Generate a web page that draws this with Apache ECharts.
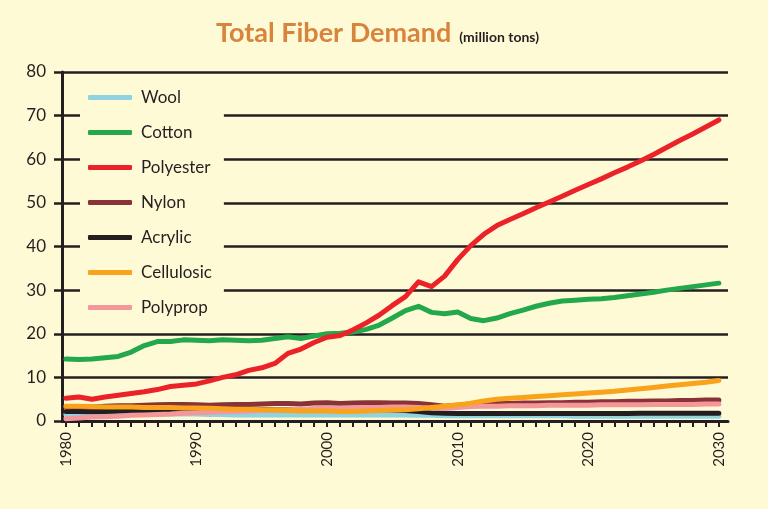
<!DOCTYPE html>
<html>
<head>
<meta charset="utf-8">
<script src="https://cdn.jsdelivr.net/npm/echarts@6/dist/echarts.min.js"></script>
<style>
html,body{margin:0;padding:0;background:#fffad6;}
#c{width:768px;height:509px;}
</style>
</head>
<body>
<div id="c"></div>
<script>
var startYear = 1980, endYear = 2030;
var years = [];
for (var y = startYear; y <= endYear; y++) years.push(y);
var xTickLabels = [1980, 1990, 2000, 2010, 2020, 2030];
var seriesNames = ['Wool','Cotton','Polyester','Nylon','Acrylic','Cellulosic','Polyprop'];

var wool = [1.5,1.5,1.4,1.4,1.5,1.5,1.5,1.6,1.6,1.6,
  1.6,1.5,1.5,1.4,1.4,1.4,1.4,1.4,1.4,1.4,
  1.4,1.4,1.4,1.4,1.4,1.4,1.4,1.3,1.3,1.2,
  1.2,1.2,1.2,1.2,1.2,1.2,1.2,1.2,1.2,1.1,
  1.1,1.1,1.1,1.1,1.1,1.1,1.1,1.1,1.1,1.1,
  1.1];
var cotton = [14.2,14.1,14.2,14.5,14.8,15.8,17.3,18.2,18.2,18.6,
  18.5,18.4,18.6,18.5,18.4,18.5,18.9,19.3,18.9,19.5,
  20.0,20.1,20.4,21.0,22.0,23.6,25.3,26.3,24.9,24.6,
  25.0,23.5,23.0,23.6,24.6,25.4,26.3,27.0,27.5,27.7,
  27.9,28.0,28.3,28.7,29.1,29.5,30.0,30.4,30.8,31.2,
  31.6];
var polyester = [5.2,5.5,5.0,5.5,5.9,6.3,6.7,7.2,7.9,8.2,
  8.5,9.2,10.0,10.6,11.6,12.2,13.2,15.5,16.5,18.0,
  19.2,19.6,20.9,22.5,24.3,26.5,28.5,31.9,30.8,33.2,
  37.0,40.2,42.8,44.8,46.2,47.5,48.9,50.2,51.5,52.9,
  54.2,55.5,56.9,58.2,59.6,61.1,62.7,64.3,65.8,67.4,
  69.0];
var nylon = [3.2,3.3,3.2,3.4,3.5,3.5,3.6,3.7,3.8,3.8,
  3.7,3.6,3.7,3.8,3.8,3.9,4.0,4.0,3.9,4.1,
  4.2,4.0,4.1,4.2,4.2,4.1,4.1,4.0,3.7,3.4,
  3.6,3.8,3.9,4.0,4.0,4.1,4.1,4.2,4.2,4.3,
  4.3,4.4,4.4,4.5,4.5,4.6,4.6,4.7,4.7,4.8,
  4.8];
var acrylic = [2.2,2.2,2.1,2.2,2.3,2.3,2.3,2.4,2.4,2.4,
  2.4,2.4,2.4,2.5,2.5,2.6,2.6,2.6,2.6,2.7,
  2.7,2.6,2.6,2.6,2.6,2.5,2.4,2.2,1.9,1.8,
  1.7,1.7,1.7,1.7,1.7,1.7,1.7,1.7,1.7,1.7,
  1.7,1.7,1.7,1.7,1.8,1.8,1.8,1.8,1.8,1.8,
  1.8];
var cellulosic = [3.4,3.4,3.3,3.2,3.2,3.2,3.1,3.1,3.1,3.0,
  3.0,2.9,2.8,2.7,2.7,2.6,2.5,2.4,2.3,2.3,
  2.3,2.2,2.2,2.3,2.4,2.5,2.6,2.8,3.1,3.4,
  3.7,4.1,4.6,5.0,5.2,5.4,5.6,5.8,6.0,6.2,
  6.4,6.6,6.8,7.1,7.4,7.7,8.0,8.3,8.6,8.9,
  9.3];
var polyprop = [0.5,0.7,0.9,1.0,1.1,1.3,1.4,1.5,1.6,1.8,
  1.9,2.0,2.1,2.2,2.3,2.4,2.5,2.6,2.7,2.8,
  2.9,3.0,3.0,3.1,3.1,3.2,3.2,3.1,2.9,2.9,
  3.1,3.3,3.4,3.4,3.5,3.5,3.5,3.6,3.6,3.6,
  3.6,3.7,3.7,3.7,3.7,3.8,3.8,3.8,3.8,3.9,
  3.9];

var colors = {
  Wool:'#8fd3e1', Cotton:'#23a84b', Polyester:'#ec2229', Nylon:'#8a3336',
  Acrylic:'#231f20', Cellulosic:'#f9a21b', Polyprop:'#f4979a'
};
var valuesByName = {
  Wool: wool, Cotton: cotton, Polyester: polyester, Nylon: nylon,
  Acrylic: acrylic, Cellulosic: cellulosic, Polyprop: polyprop
};
var drawOrder = ['Wool','Acrylic','Nylon','Polyprop','Cellulosic','Cotton','Polyester'];

function pairs(vals){ return years.map(function(yr,i){ return [yr, vals[i]]; }); }

var dark = '#231f20';
var font = 'Lato, "Open Sans", sans-serif';
var chart = echarts.init(document.getElementById('c'), null, {renderer:'canvas'});
chart.setOption({
  backgroundColor: '#fffad6',
  animation: false,
  title: {
    text: '{a|Total Fiber Demand} {b|(million tons)}',
    left: 211, top: 15,
    textStyle: {
      rich: {
        a: {fontFamily: font, fontSize: 27, fontWeight: 'bold', color: '#d9843c'},
        b: {fontFamily: font, fontSize: 14, fontWeight: 'bold', color: dark, padding:[8,0,0,3]}
      }
    }
  },
  legend: {
    orient: 'vertical',
    left: 80, top: 80,
    padding: [0, 12, 0, 8],
    backgroundColor: '#fffad6',
    itemWidth: 44, itemHeight: 5, itemGap: 0,
    icon: 'roundRect',
    data: seriesNames,
    textStyle: {fontFamily: font, fontSize: 17, color: dark, lineHeight: 35, padding:[0,0,0,4]}
  },
  grid: {left: 62, right: 40, top: 72, bottom: 88},
  xAxis: {
    type: 'value', min: 1979.7, max: 2030.7,
    axisLine: {show: true, lineStyle: {color: dark, width: 3}},
    axisTick: {show: true, customValues: years, length: 6, lineStyle: {color: dark, width: 2}},
    axisLabel: {customValues: xTickLabels, rotate: 90, margin: 11, fontFamily: font, fontSize: 15, color: dark,
      formatter: function(v){ return String(Math.round(v)); }},
    splitLine: {show: false}
  },
  yAxis: {
    type: 'value', min: 0, max: 80, interval: 10,
    axisLine: {show: true, lineStyle: {color: dark, width: 3}},
    axisTick: {show: true, length: 8, lineStyle: {color: dark, width: 2.5}},
    axisLabel: {margin: 16, fontFamily: font, fontSize: 17, color: dark},
    splitLine: {show: true, lineStyle: {color: dark, width: 2.5}}
  },
  series: drawOrder.map(function(n){
    return {
      name: n, type: 'line', data: pairs(valuesByName[n]),
      showSymbol: false, symbol: 'none',
      itemStyle: {color: colors[n]},
      lineStyle: {color: colors[n], width: 5, cap: 'round', join: 'round'}
    };
  })
});
</script>
</body>
</html>
